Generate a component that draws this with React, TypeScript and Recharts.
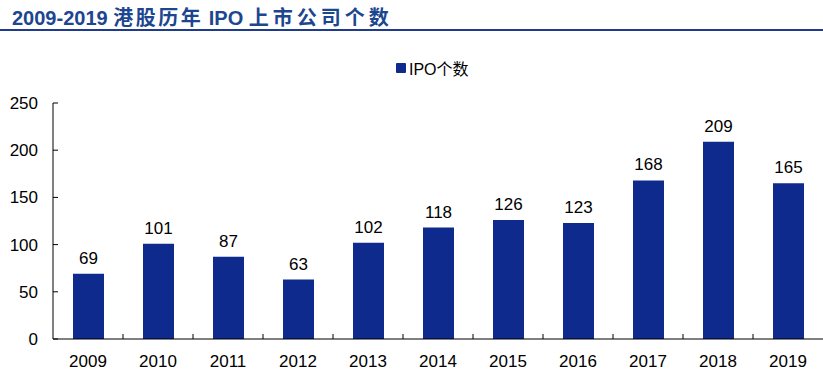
import { BarChart, Bar, XAxis, YAxis, LabelList } from "recharts";

const years = ["2009", "2010", "2011", "2012", "2013", "2014", "2015", "2016", "2017", "2018", "2019"];
const ipoCounts = [69, 101, 87, 63, 102, 118, 126, 123, 168, 209, 165];
const yTicks = [0, 50, 100, 150, 200, 250];

const seriesName = "IPO个数";
const barColor = "#0E2A8C";
const font = '"Liberation Sans", Arial, "Noto Sans CJK SC", sans-serif';

const chartData = years.map((year, i) => ({ year, count: ipoCounts[i] }));

// category label plus a short inward tick on the right edge of each band
function YearTick(props: any) {
  const { x, y, payload, index, visibleTicksCount } = props;
  const half = payload?.offset ?? 0;
  const isLast = index === visibleTicksCount - 1;
  return (
    <g>
      {!isLast && (
        <line x1={x + half} x2={x + half} y1={y} y2={y - 5} stroke="#000" strokeWidth={1} />
      )}
      <text x={x} y={y + 28} textAnchor="middle" fontSize={17} fill="#000" fontFamily={font}>
        {payload.value}
      </text>
    </g>
  );
}

export default function App() {
  return (
    <div style={{ position: "absolute", left: 0, top: 0, width: 823, height: 373, background: "#fff" }}>
      <div
        style={{
          position: "absolute",
          left: 12,
          top: 2,
          fontFamily: font,
          fontWeight: "bold",
          fontSize: 20,
          color: "#1C468F",
          whiteSpace: "nowrap",
        }}
      >
        2009-2019 <span style={{ letterSpacing: 2.5 }}>港股历年</span> IPO{" "}
        <span style={{ letterSpacing: 4 }}>上市公司个数</span>
      </div>
      <div
        style={{
          position: "absolute",
          left: 0,
          top: 29,
          width: 823,
          height: 2,
          background: "#1F3C8C",
        }}
      />
      <div
        style={{
          position: "absolute",
          left: 396,
          top: 56,
          display: "flex",
          alignItems: "center",
          fontFamily: font,
          fontSize: 16,
          color: "#000",
        }}
      >
        <span
          style={{
            display: "inline-block",
            width: 10,
            height: 10,
            background: barColor,
            borderRadius: 1,
            marginRight: 3,
          }}
        />
        <span>{seriesName}</span>
      </div>
      <div style={{ position: "absolute", left: 0, top: 0 }}>
        <BarChart
          width={823}
          height={373}
          data={chartData}
          margin={{ top: 103, right: 0, bottom: 4, left: 0 }}
        >
          <XAxis
            dataKey="year"
            height={30}
            axisLine={{ stroke: "#000", strokeWidth: 1 }}
            tickLine={false}
            tickSize={0}
            tickMargin={0}
            interval={0}
            tick={<YearTick />}
          />
          <YAxis
            width={53}
            domain={[0, 250]}
            ticks={yTicks}
            interval={0}
            axisLine={{ stroke: "#000", strokeWidth: 1 }}
            tickLine={{ stroke: "#000", strokeWidth: 1 }}
            tickSize={-5}
            tickMargin={20}
            tick={{ fill: "#000", fontSize: 17, fontFamily: font }}
          />
          <Bar dataKey="count" name={seriesName} fill={barColor} barSize={31} isAnimationActive={false}>
            <LabelList
              dataKey="count"
              position="top"
              offset={10}
              fill="#000"
              fontSize={17}
              fontFamily={font}
            />
          </Bar>
        </BarChart>
      </div>
    </div>
  );
}
